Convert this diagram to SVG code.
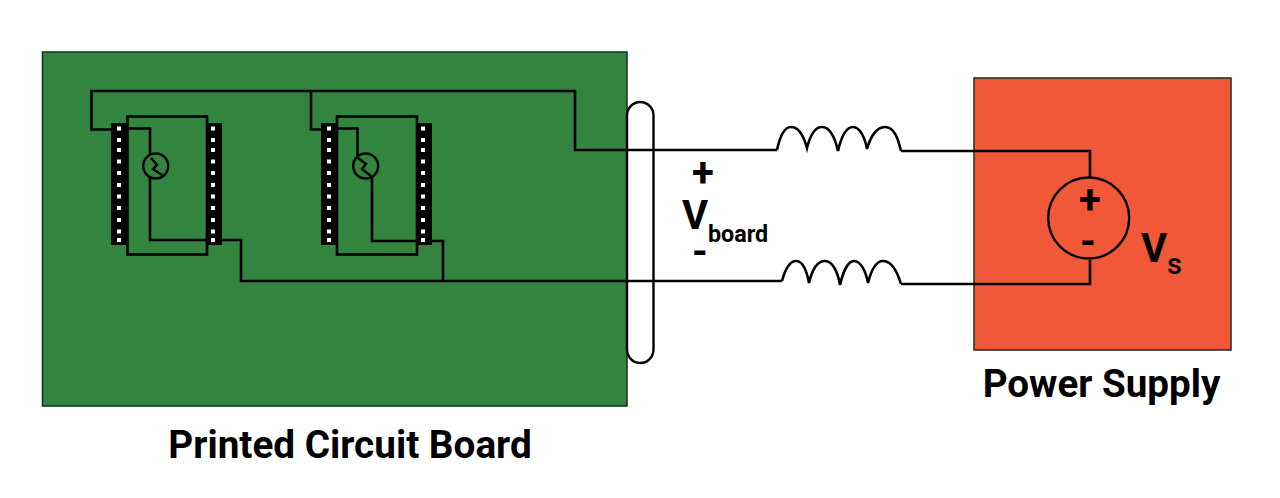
<svg xmlns="http://www.w3.org/2000/svg" width="1280" height="498" viewBox="0 0 1280 498">
<style>
.w{fill:none;stroke:#000;stroke-width:2.600;stroke-linejoin:miter}
.o{fill:none;stroke:#000;stroke-width:2.400}
.t{font-family:Roboto,"Liberation Sans",sans-serif;font-weight:700;fill:#000}
.strip{fill:#000}
.pad{fill:#fff}
</style>
<defs>
<g id="pads">
<rect x="-2" y="126.500" width="4" height="4" class="pad"/>
<rect x="-2" y="138" width="4" height="4" class="pad"/>
<rect x="-2" y="148" width="4" height="4" class="pad"/>
<rect x="-2" y="159.500" width="4" height="4" class="pad"/>
<rect x="-2" y="171" width="4" height="4" class="pad"/>
<rect x="-2" y="183" width="4" height="4" class="pad"/>
<rect x="-2" y="194.500" width="4" height="4" class="pad"/>
<rect x="-2" y="206" width="4" height="4" class="pad"/>
<rect x="-2" y="218" width="4" height="4" class="pad"/>
<rect x="-2" y="229.500" width="4" height="4" class="pad"/>
<rect x="-2" y="238" width="4" height="4" class="pad"/>
</g>
</defs>
<rect width="1280" height="498" fill="#fff"/>
<g id="board">
<rect x="42.500" y="52" width="584.500" height="354" fill="#33843f" stroke="#10301a" stroke-width="1.500"/>
<text class="t" x="350" y="458" font-size="38.700" text-anchor="middle">Printed Circuit Board</text>
</g>
<g id="supply">
<rect x="974" y="78" width="257" height="272" fill="#f15837" stroke="#1c2a2a" stroke-width="1.500"/>
<text class="t" x="1101.500" y="397" font-size="38.600" text-anchor="middle">Power Supply</text>
</g>
<g id="chip1">
<rect x="111" y="123" width="17" height="122" class="strip"/>
<rect x="206" y="123" width="16" height="122" class="strip"/>
<use href="#pads" x="119"/>
<use href="#pads" x="213"/>
<rect x="127.500" y="116.500" width="79.500" height="138" class="w"/>
<circle cx="155.700" cy="166" r="12.500" class="o"/>
<path d="M151 158L157 165L153 169L162 175" class="o"/>
</g>
<g id="chip2">
<rect x="321" y="123" width="17" height="122" class="strip"/>
<rect x="416" y="123" width="16" height="122" class="strip"/>
<use href="#pads" x="329"/>
<use href="#pads" x="423"/>
<rect x="337" y="116.500" width="80" height="138" class="w"/>
<circle cx="365.700" cy="166" r="12.500" class="o"/>
<path d="M358 158L366 164L362 169L371 176" class="o"/>
</g>
<g id="connectors">
<path class="w" d="M111 129.500H91.500V91H575V150H777"/>
<path class="w" d="M321 129.500H311V91"/>
<path class="w" d="M128 128.500H150V155M150 178V240H207"/>
<path class="w" d="M338 128.500H357.500V158M372 176V241H417"/>
<path class="w" d="M222 240H241V281H782"/>
<path class="w" d="M432 241H443V281"/>
<path class="w" d="M777 150C780 136 784 127 791 127C799 127 804 137 807 148C810 136 814 127 822 127C830 127 835 138 838 151C841 138 846 127 853 127C860 127 865 138 867 149C870 138 876 127 885 127C894 127 898 138 901 151"/>
<path class="w" d="M901 151H1090V177M1090 260V284H901"/>
<path class="w" d="M782 281C785 270 789 261 796 261C803 261 807 272 809 283C812 270 817 261 825 261C833 261 838 273 840 285C843 272 848 261 854 261C861 261 866 272 868 283C871 271 876 261 883 261C892 261 898 274 901 284"/>
</g>
<g id="connector-clamp">
<rect x="627" y="102" width="26.500" height="261" rx="13.500" class="o"/>
</g>
<g id="source">
<circle cx="1088.700" cy="218" r="40.500" class="o"/>
<text class="t" x="1090" y="213" font-size="40" text-anchor="middle">+</text>
<text class="t" x="1088" y="255" font-size="40" text-anchor="middle">-</text>
<text class="t" x="1141" y="262" font-size="40">V</text>
<text x="1167" y="274" font-size="29" font-family="Roboto,sans-serif" font-weight="500">s</text>
</g>
<g id="vboard">
<text class="t" x="703" y="186" font-size="40" text-anchor="middle">+</text>
<text class="t" x="700" y="265" font-size="40" text-anchor="middle">-</text>
<text class="t" x="682" y="229" font-size="40">V</text>
<text class="t" x="708" y="242" font-size="23.300">board</text>
</g>
</svg>
